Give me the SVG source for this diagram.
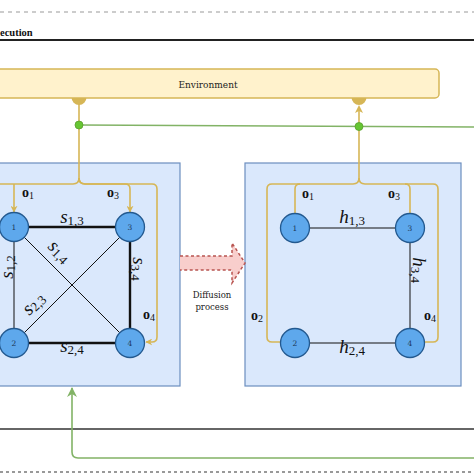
<svg xmlns="http://www.w3.org/2000/svg" width="474" height="474" viewBox="0 0 474 474">
<style>
.panel{fill:#dae8fc;stroke:#6c8ebf;stroke-width:1.2}
.node circle{fill:#5ea8ec;stroke:#23598f;stroke-width:1.3}
.node text{font-family:"DejaVu Serif",serif;font-size:7.5px;fill:#1b3556;text-anchor:middle}
.edge{stroke:#111;stroke-width:1;fill:none}
.thick{stroke-width:2.4}
.yl{stroke:#d6b656;stroke-width:1.6;fill:none}
.gr{stroke:#82b366;stroke-width:1.6;fill:none}
.math{font-family:"Liberation Serif",serif;font-size:19px;fill:#111;text-anchor:middle}
.sub{font-style:normal;font-size:13px}
.ob{font-family:"Liberation Serif",serif;font-size:14px;font-weight:bold;fill:#111}
.obs{font-weight:normal;font-size:10px}
.lbl{font-family:"DejaVu Serif",serif;fill:#222}
</style>
<defs>
<marker id="ya" viewBox="0 0 10 10" refX="9" refY="5" markerWidth="7" markerHeight="7" orient="auto" markerUnits="userSpaceOnUse">
<path d="M0,0 L10,5 L0,10 L3,5 Z" fill="#d6b656"/>
</marker>
<marker id="ga" viewBox="0 0 10 10" refX="9" refY="5" markerWidth="10" markerHeight="10" orient="auto" markerUnits="userSpaceOnUse">
<path d="M0,0 L10,5 L0,10 L3,5 Z" fill="#82b366"/>
</marker>
</defs>

<g id="frame">
<line x1="0" y1="12" x2="474" y2="12" stroke="#999" stroke-width="1.2" stroke-dasharray="4,4"/>
<text x="0" y="36" font-family="Liberation Serif,serif" font-weight="bold" font-size="10.5" fill="#111">ecution</text>
<line x1="0" y1="40" x2="474" y2="40" stroke="#222" stroke-width="2"/>
<line x1="0" y1="429" x2="474" y2="429" stroke="#333" stroke-width="1.6"/>
<line x1="0" y1="472" x2="474" y2="472" stroke="#999" stroke-width="2" stroke-dasharray="3,3"/>
</g>

<g id="panel-left"><rect class="panel" x="-2" y="163" width="182" height="223"/></g>
<g id="panel-right"><rect class="panel" x="245" y="163" width="216" height="223"/></g>

<g id="environment">
<circle cx="79" cy="97.5" r="7.5" fill="#d6b656"/>
<circle cx="359" cy="97.5" r="7.5" fill="#d6b656"/>
<rect x="-6" y="69" width="445" height="29" rx="4" fill="#fff2cc" stroke="#d6b656" stroke-width="1.5"/>
<text class="lbl" x="208" y="87.5" font-size="9" text-anchor="middle">Environment</text>
</g>

<g id="connectors">
<path class="gr" d="M79,125 L474,127"/>
<path class="gr" d="M474,458 H78 Q72,458 72,452 V388" marker-end="url(#ga)"/>
<path class="yl" d="M79,104 V178 Q79,184 73,184 H-10"/>
<path class="yl" d="M79,178 Q79,184 85,184 H125 Q130,184 130,189 V212" marker-end="url(#ya)"/>
<path class="yl" d="M79,178 Q79,184 85,184 H152 Q157,184 157,189 V337 Q157,342 152,342 H146" marker-end="url(#ya)"/>
<path class="yl" d="M14,184 V212" marker-end="url(#ya)"/>
<path class="yl" d="M359,163 V178 Q359,184 353,184 H272 Q267,184 267,189 V337 Q267,342 272,342 H281"/>
<path class="yl" d="M359,178 Q359,184 365,184 H433 Q438,184 438,189 V337 Q438,342 433,342 H425"/>
<path class="yl" d="M300,184 Q295,184 295,189 V213"/>
<path class="yl" d="M405,184 Q410,184 410,189 V213"/>
<path class="yl" d="M359,163 V107"/>
<path d="M359,105 L363,113 L359,111 L355,113 Z" fill="#d6b656"/>
<circle cx="79" cy="125" r="4" fill="#66c633" stroke="#5a9e2f" stroke-width="0.8"/>
<circle cx="359" cy="126.5" r="4" fill="#66c633" stroke="#5a9e2f" stroke-width="0.8"/>
<line class="edge thick" x1="14" y1="227" x2="130" y2="227"/>
<line class="edge" x1="14" y1="227" x2="14" y2="343"/>
<line class="edge thick" x1="130" y1="227" x2="130" y2="343"/>
<line class="edge thick" x1="14" y1="343" x2="130" y2="343"/>
<line class="edge" x1="14" y1="227" x2="130" y2="343"/>
<line class="edge" x1="14" y1="343" x2="130" y2="227"/>
<line class="edge" x1="295" y1="228" x2="410" y2="228"/>
<line class="edge" x1="410" y1="228" x2="410" y2="343"/>
<line class="edge" x1="295" y1="343" x2="410" y2="343"/>
<path d="M180,256 H232 V243 L245,263 L232,283 V270 H180" fill="#f8cecc" stroke="#b85450" stroke-width="1.5" stroke-dasharray="3,2.5"/>
<text class="lbl" x="212" y="298" font-size="8.5" text-anchor="middle">Diffusion</text>
<text class="lbl" x="212" y="309.5" font-size="8.5" text-anchor="middle">process</text>
</g>

<g id="labels">
<text class="math" x="72" y="223"><tspan font-style="italic">s</tspan><tspan class="sub" dy="2">1,3</tspan></text>
<text class="math" x="72" y="352"><tspan font-style="italic">s</tspan><tspan class="sub" dy="2">2,4</tspan></text>
<text class="math" transform="translate(8,267) rotate(-90)" y="5" font-size="17"><tspan font-style="italic">s</tspan><tspan class="sub" dy="2" font-size="12">1,2</tspan></text>
<text class="math" transform="translate(138,269) rotate(90)" y="5"><tspan font-style="italic">s</tspan><tspan class="sub" dy="2">3,4</tspan></text>
<text class="math" transform="translate(59,252) rotate(45)" y="5"><tspan font-style="italic">s</tspan><tspan class="sub" dy="2">1,4</tspan></text>
<text class="math" transform="translate(34,304) rotate(-45)" y="5"><tspan font-style="italic">s</tspan><tspan class="sub" dy="2">2,3</tspan></text>
<text class="math" x="352" y="223"><tspan font-style="italic">h</tspan><tspan class="sub" dy="2">1,3</tspan></text>
<text class="math" x="352" y="353"><tspan font-style="italic">h</tspan><tspan class="sub" dy="2">2,4</tspan></text>
<text class="math" transform="translate(418,270) rotate(90)" y="5"><tspan font-style="italic">h</tspan><tspan class="sub" dy="2">3,4</tspan></text>
<text class="ob" x="22" y="197">o<tspan class="obs" dy="2">1</tspan></text>
<text class="ob" x="107" y="197">o<tspan class="obs" dy="2">3</tspan></text>
<text class="ob" x="143" y="319">o<tspan class="obs" dy="2">4</tspan></text>
<text class="ob" x="302" y="198">o<tspan class="obs" dy="2">1</tspan></text>
<text class="ob" x="388" y="198">o<tspan class="obs" dy="2">3</tspan></text>
<text class="ob" x="251" y="320">o<tspan class="obs" dy="2">2</tspan></text>
<text class="ob" x="424" y="320">o<tspan class="obs" dy="2">4</tspan></text>
</g>

<g id="node-L1" class="node"><circle cx="14" cy="227" r="14.5"/><text x="14" y="230">1</text></g>
<g id="node-L2" class="node"><circle cx="14" cy="343" r="14.5"/><text x="14" y="346">2</text></g>
<g id="node-L3" class="node"><circle cx="130" cy="227" r="14.5"/><text x="130" y="230">3</text></g>
<g id="node-L4" class="node"><circle cx="130" cy="343" r="14.5"/><text x="130" y="346">4</text></g>
<g id="node-R1" class="node"><circle cx="295" cy="228" r="14.5"/><text x="295" y="231">1</text></g>
<g id="node-R2" class="node"><circle cx="295" cy="343" r="14.5"/><text x="295" y="346">2</text></g>
<g id="node-R3" class="node"><circle cx="410" cy="228" r="14.5"/><text x="410" y="231">3</text></g>
<g id="node-R4" class="node"><circle cx="410" cy="343" r="14.5"/><text x="410" y="346">4</text></g>
</svg>
